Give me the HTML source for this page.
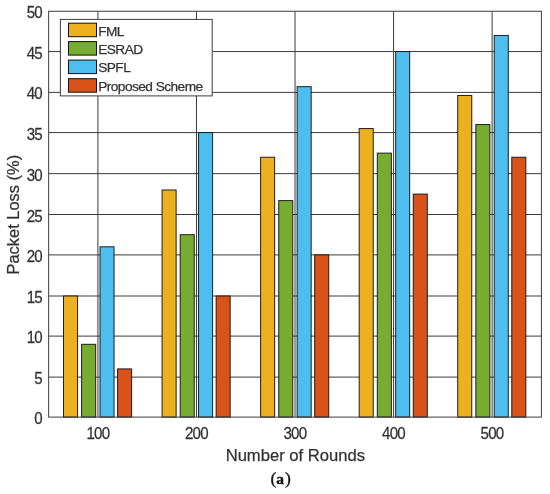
<!DOCTYPE html>
<html lang="en"><head><meta charset="utf-8"><title>Packet Loss vs Number of Rounds</title>
<style>
html,body{margin:0;padding:0;background:#fff}
body{width:550px;height:494px;overflow:hidden}
svg text{font-family:"Liberation Sans",Arial,Helvetica,sans-serif;stroke:#3a3a3a;stroke-width:0.25px}
svg text.cap{stroke:#111;stroke-width:0.35px}
</style></head><body>
<svg width="550" height="494" viewBox="0 0 550 494" style="display:block">
<rect width="550" height="494" fill="#fff"/>
<g stroke="#3c3c3c" stroke-width="1" fill="none">
<line x1="97.93" y1="11.26" x2="97.93" y2="417.1"/>
<line x1="196.48" y1="11.26" x2="196.48" y2="417.1"/>
<line x1="295.02" y1="11.26" x2="295.02" y2="417.1"/>
<line x1="393.57" y1="11.26" x2="393.57" y2="417.1"/>
<line x1="492.12" y1="11.26" x2="492.12" y2="417.1"/>
<line x1="48.65" y1="377.10" x2="541.4" y2="377.10"/>
<line x1="48.65" y1="336.10" x2="541.4" y2="336.10"/>
<line x1="48.65" y1="296.00" x2="541.4" y2="296.00"/>
<line x1="48.65" y1="254.90" x2="541.4" y2="254.90"/>
<line x1="48.65" y1="214.50" x2="541.4" y2="214.50"/>
<line x1="48.65" y1="173.65" x2="541.4" y2="173.65"/>
<line x1="48.65" y1="132.60" x2="541.4" y2="132.60"/>
<line x1="48.65" y1="92.40" x2="541.4" y2="92.40"/>
<line x1="48.65" y1="51.55" x2="541.4" y2="51.55"/>
</g>
<g stroke="#161616" stroke-width="0.95">
<rect x="63.52" y="296.00" width="14.05" height="121.10" fill="#EDB120"/>
<rect x="162.07" y="189.99" width="14.05" height="227.11" fill="#EDB120"/>
<rect x="260.62" y="157.23" width="14.05" height="259.87" fill="#EDB120"/>
<rect x="359.17" y="128.58" width="14.05" height="288.52" fill="#EDB120"/>
<rect x="457.72" y="95.46" width="14.05" height="321.64" fill="#EDB120"/>
<rect x="81.64" y="344.30" width="14.05" height="72.80" fill="#77AC30"/>
<rect x="180.19" y="234.70" width="14.05" height="182.40" fill="#77AC30"/>
<rect x="278.74" y="200.61" width="14.05" height="216.49" fill="#77AC30"/>
<rect x="377.29" y="153.12" width="14.05" height="263.98" fill="#77AC30"/>
<rect x="475.84" y="124.56" width="14.05" height="292.54" fill="#77AC30"/>
<rect x="100.01" y="246.82" width="14.05" height="170.28" fill="#4DBEEE"/>
<rect x="198.56" y="132.60" width="14.05" height="284.50" fill="#4DBEEE"/>
<rect x="297.11" y="86.68" width="14.05" height="330.42" fill="#4DBEEE"/>
<rect x="395.66" y="51.55" width="14.05" height="365.55" fill="#4DBEEE"/>
<rect x="494.21" y="35.43" width="14.05" height="381.67" fill="#4DBEEE"/>
<rect x="117.58" y="368.90" width="14.05" height="48.20" fill="#D95319"/>
<rect x="216.13" y="296.00" width="14.05" height="121.10" fill="#D95319"/>
<rect x="314.68" y="254.90" width="14.05" height="162.20" fill="#D95319"/>
<rect x="413.23" y="194.07" width="14.05" height="223.03" fill="#D95319"/>
<rect x="511.78" y="157.23" width="14.05" height="259.87" fill="#D95319"/>
</g>
<rect x="48.65" y="11.26" width="492.75" height="405.84" fill="none" stroke="#3c3c3c" stroke-width="1"/>
<rect x="60.4" y="19.4" width="151.8" height="76.5" fill="#fff" stroke="#3c3c3c" stroke-width="1"/>
<rect x="68.5" y="23.2" width="28" height="13.5" fill="#EDB120" stroke="#111" stroke-width="1"/>
<text x="98.2" y="35.5" font-size="13.7" letter-spacing="-0.55" fill="#303030">FML</text>
<rect x="68.5" y="41.6" width="28" height="13.5" fill="#77AC30" stroke="#111" stroke-width="1"/>
<text x="98.2" y="53.9" font-size="13.7" letter-spacing="-0.55" fill="#303030">ESRAD</text>
<rect x="68.5" y="60.1" width="28" height="13.5" fill="#4DBEEE" stroke="#111" stroke-width="1"/>
<text x="98.2" y="72.4" font-size="13.7" letter-spacing="-0.55" fill="#303030">SPFL</text>
<rect x="68.5" y="78.7" width="28" height="13.5" fill="#D95319" stroke="#111" stroke-width="1"/>
<text x="98.2" y="91.0" font-size="13.7" letter-spacing="-0.55" fill="#303030">Proposed Scheme</text>
<text transform="translate(41.9,424.10) scale(1,1.07)" font-size="15.07" letter-spacing="-0.75" text-anchor="end" fill="#303030">0</text>
<text transform="translate(41.9,384.10) scale(1,1.07)" font-size="15.07" letter-spacing="-0.75" text-anchor="end" fill="#303030">5</text>
<text transform="translate(41.9,343.10) scale(1,1.07)" font-size="15.07" letter-spacing="-0.75" text-anchor="end" fill="#303030">10</text>
<text transform="translate(41.9,303.00) scale(1,1.07)" font-size="15.07" letter-spacing="-0.75" text-anchor="end" fill="#303030">15</text>
<text transform="translate(41.9,261.90) scale(1,1.07)" font-size="15.07" letter-spacing="-0.75" text-anchor="end" fill="#303030">20</text>
<text transform="translate(41.9,221.50) scale(1,1.07)" font-size="15.07" letter-spacing="-0.75" text-anchor="end" fill="#303030">25</text>
<text transform="translate(41.9,180.65) scale(1,1.07)" font-size="15.07" letter-spacing="-0.75" text-anchor="end" fill="#303030">30</text>
<text transform="translate(41.9,139.60) scale(1,1.07)" font-size="15.07" letter-spacing="-0.75" text-anchor="end" fill="#303030">35</text>
<text transform="translate(41.9,99.40) scale(1,1.07)" font-size="15.07" letter-spacing="-0.75" text-anchor="end" fill="#303030">40</text>
<text transform="translate(41.9,58.55) scale(1,1.07)" font-size="15.07" letter-spacing="-0.75" text-anchor="end" fill="#303030">45</text>
<text transform="translate(41.9,18.26) scale(1,1.07)" font-size="15.07" letter-spacing="-0.75" text-anchor="end" fill="#303030">50</text>
<text transform="translate(97.83,439.3) scale(1,1.04)" font-size="15.07" letter-spacing="-0.75" text-anchor="middle" fill="#303030">100</text>
<text transform="translate(196.38,439.3) scale(1,1.04)" font-size="15.07" letter-spacing="-0.75" text-anchor="middle" fill="#303030">200</text>
<text transform="translate(294.92,439.3) scale(1,1.04)" font-size="15.07" letter-spacing="-0.75" text-anchor="middle" fill="#303030">300</text>
<text transform="translate(393.47,439.3) scale(1,1.04)" font-size="15.07" letter-spacing="-0.75" text-anchor="middle" fill="#303030">400</text>
<text transform="translate(492.02,439.3) scale(1,1.04)" font-size="15.07" letter-spacing="-0.75" text-anchor="middle" fill="#303030">500</text>
<text x="295.3" y="460.8" font-size="16.6" text-anchor="middle" fill="#303030">Number of Rounds</text>
<text transform="translate(18.6,214.7) rotate(-90)" font-size="16.45" text-anchor="middle" fill="#303030">Packet Loss (%)</text>
<text class="cap" fill="#111" style="font-family:'Liberation Serif',serif"><tspan x="270.4" y="484.1" font-size="17.6">(</tspan><tspan x="276.2" y="483.7" font-size="15.5" font-weight="bold">a</tspan><tspan x="285.0" y="484.1" font-size="17.6">)</tspan></text>
</svg>
</body></html>
